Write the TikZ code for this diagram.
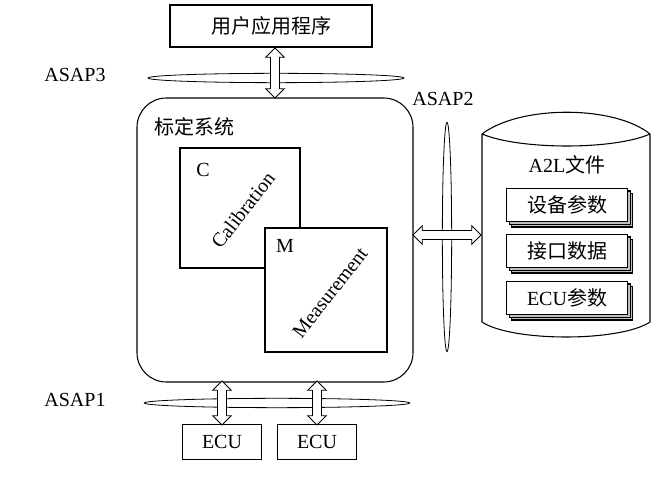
\documentclass[tikz,border=0pt]{standalone}
\usepackage{fontspec}
\setmainfont{Liberation Serif}
\newfontfamily\cjk{Noto Sans CJK SC}
\usetikzlibrary{shapes.arrows,shapes.geometric,shadows}
\begin{document}
\begin{tikzpicture}[x=0.75pt,y=-0.75pt,
  every node/.style={font=\fontsize{15}{18}\selectfont},
  box/.style={draw,line width=0.8pt,fill=white,inner sep=0pt},
  lens/.style={draw,ellipse,line width=0.6pt,fill=white,inner sep=0pt},
  darr/.style={draw,double arrow,fill=white,line width=0.6pt,double arrow head extend=3.5pt,minimum width=14pt,inner xsep=0pt,inner ysep=3pt,font=\fontsize{1}{1}\selectfont},
  sbox/.style={box,minimum width=90.75pt,minimum height=25pt,fill=white,
     double copy shadow={shadow xshift=2pt,shadow yshift=-2pt,fill=gray!50,draw=black},font=\cjk\fontsize{15}{18}\selectfont}]
\useasboundingbox (0,0) rectangle (669,477);
% top
\node[box,minimum width=151.5pt,minimum height=31.5pt,font=\cjk\fontsize{15}{18}\selectfont] (app) at (271,26) {用户应用程序};
\node[lens,minimum width=192pt,minimum height=7pt] (l3) at (276,78) {};
\node (a3) at (75,75) {ASAP3};
% main system
\node[draw,line width=0.8pt,rounded corners=22pt,minimum width=207pt,minimum height=213pt] (sys) at (275,240) {};
\node[anchor=west,font=\cjk\fontsize{15}{18}\selectfont] (sysl) at (150,127) {标定系统};
\node[box,minimum width=90pt,minimum height=90pt] (cb) at (240,208) {};
\node (c) at (203,170) {C};
\node[rotate=52] (cal) at (243,210) {Calibration};
\node[box,minimum width=91.5pt,minimum height=93pt] (mb) at (326,290) {};
\node (m) at (285,246) {M};
\node[rotate=52] (meas) at (330,293) {Measurement};
\node[darr,rotate=90,minimum height=37.5pt] (ar3) at (275,73) {};
% ASAP2
\node (a2) at (443,99) {ASAP2};
\node[lens,minimum width=7pt,minimum height=172pt] (l2) at (447,237) {};
\node[darr,minimum height=51pt] (ar2) at (447,235) {};
% cylinder
\draw[line width=0.8pt,fill=white] (482,134) .. controls (520,105) and (614,105) .. (650,134) -- (650,322)
  .. controls (620,342) and (512,342) .. (482,322) -- cycle;
\draw[line width=0.8pt] (482,134) .. controls (520,150) and (614,150) .. (650,134);
\node[font=\cjk\fontsize{15}{18}\selectfont] (a2l) at (567,165) {\rmfamily A2L\cjk 文件};
\node[sbox] (p1) at (567,205) {设备参数};
\node[sbox] (p2) at (567,251) {接口数据};
\node[sbox] (p3) at (567,298) {\rmfamily ECU\cjk 参数};
% ASAP1
\node (a1) at (75,400) {ASAP1};
\node[lens,minimum width=199pt,minimum height=7pt] (l1) at (277,403) {};
\node[box,minimum width=59pt,minimum height=26pt] (e1) at (222,442) {ECU};
\node[box,minimum width=59pt,minimum height=26pt] (e2) at (317,442) {ECU};
\node[darr,rotate=90,minimum height=33pt] (ar1a) at (222,403) {};
\node[darr,rotate=90,minimum height=33pt] (ar1b) at (317,403) {};
\end{tikzpicture}
\end{document}
